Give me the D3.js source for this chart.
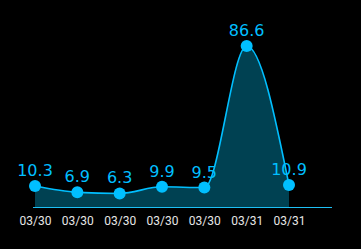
<!DOCTYPE html>
<html>
<head>
<meta charset="utf-8">
<script src="https://cdn.jsdelivr.net/npm/d3@7"></script>
<style>
  body { margin: 0; background: #000; }
  svg { display: block; }
</style>
</head>
<body>
<div id="vis"></div>
<script>
const FRAME_WIDTH = 361;
const FRAME_HEIGHT = 249;

// data
const categories = ["03/30 a", "03/30 b", "03/30 c", "03/30 d", "03/30 e", "03/31 a", "03/31 b"];
const tickLabels = ["03/30", "03/30", "03/30", "03/30", "03/30", "03/31", "03/31"];
const values = [10.3, 6.9, 6.3, 9.9, 9.5, 86.6, 10.9];

const LINE = "#00bfff";
const AREA = "#004152";

const svg = d3.select("#vis")
  .append("svg")
    .attr("width", FRAME_WIDTH)
    .attr("height", FRAME_HEIGHT)
    .style("background", "#000");

const xScale = d3.scalePoint()
  .domain(categories)
  .range([35, 289]);

const yScale = d3.scaleLinear()
  .domain([0, 86.6])
  .range([205, 46]);

const data = categories.map((c, i) => ({cat: c, label: tickLabels[i], value: values[i]}));

// area under the curve
const area = d3.area()
  .x(d => xScale(d.cat))
  .y0(207)
  .y1(d => yScale(d.value))
  .curve(d3.curveMonotoneX);

svg.append("path")
  .datum(data)
  .attr("d", area)
  .attr("fill", AREA);

// x axis
const xAxis = svg.append("g")
  .attr("transform", "translate(0,207)")
  .call(d3.axisBottom(xScale).tickSize(0).tickPadding(9).tickFormat((d, i) => tickLabels[i]));

xAxis.select(".domain").remove();
xAxis.append("line")
  .attr("x1", 33)
  .attr("x2", 332)
  .attr("y1", 0.5)
  .attr("y2", 0.5)
  .attr("stroke", "#1ec0f5")
  .attr("stroke-width", 1);

xAxis.selectAll("text")
  .attr("fill", "#e6e6e6")
  .attr("font-family", "Roboto, sans-serif")
  .attr("font-size", "12px");

// line
const line = d3.line()
  .x(d => xScale(d.cat))
  .y(d => yScale(d.value))
  .curve(d3.curveMonotoneX);

svg.append("path")
  .datum(data)
  .attr("d", line)
  .attr("fill", "none")
  .attr("stroke", LINE)
  .attr("stroke-width", 1.6);

// points
svg.selectAll(".dot")
  .data(data)
  .enter()
  .append("circle")
  .attr("class", "dot")
  .attr("cx", d => xScale(d.cat))
  .attr("cy", d => yScale(d.value))
  .attr("r", 6)
  .attr("fill", LINE);

// value labels
svg.selectAll(".val")
  .data(data)
  .enter()
  .append("text")
  .attr("class", "val")
  .attr("x", d => xScale(d.cat))
  .attr("y", d => yScale(d.value) - 10)
  .attr("text-anchor", "middle")
  .attr("fill", LINE)
  .attr("font-family", "DejaVu Sans, sans-serif")
  .attr("font-size", "16px")
  .text(d => d.value);
</script>
</body>
</html>
